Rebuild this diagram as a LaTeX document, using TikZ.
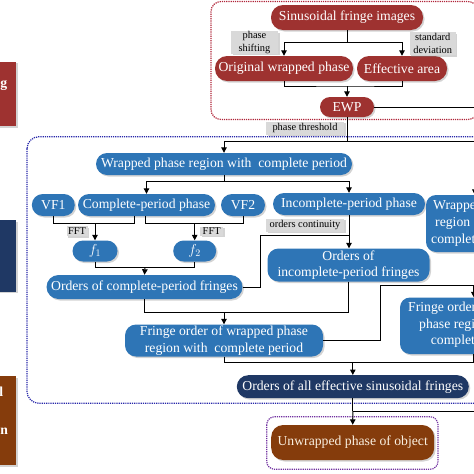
\documentclass[tikz,border=0pt]{standalone}
\usepackage{fontspec}
\setmainfont{Liberation Serif}
\usetikzlibrary{arrows.meta,shadows}
\definecolor{redN}{RGB}{158,50,48}
\definecolor{blueN}{RGB}{46,117,182}
\definecolor{navyN}{RGB}{31,56,100}
\definecolor{brownN}{RGB}{133,60,12}
\definecolor{redDot}{RGB}{175,35,55}
\definecolor{blueDot}{RGB}{40,40,170}
\definecolor{purpDot}{RGB}{112,48,160}
\definecolor{lblGray}{RGB}{217,217,217}
\begin{document}
\begin{tikzpicture}[x=1pt,y=-1pt,
  base/.style={inner sep=0pt, align=center, text=white,
    font=\fontsize{13.7}{16.6}\selectfont,
    drop shadow={opacity=0.35,shadow xshift=1.5pt,shadow yshift=-1.5pt}},
  rbox/.style={base, fill=redN, rounded corners=12pt},
  bbox/.style={base, fill=blueN, rounded corners=11pt},
  lbl/.style={inner sep=0pt, fill=lblGray, text=black, align=center,
    font=\fontsize{10.4}{12.6}\selectfont,
    drop shadow={opacity=0.35,shadow xshift=1.5pt,shadow yshift=-1.5pt}},
  sidebox/.style={inner sep=0pt, minimum width=46pt,
    drop shadow={opacity=0.35,shadow xshift=1.5pt,shadow yshift=-1.5pt}},
  sidetxt/.style={inner sep=0pt, text=white, font=\fontsize{13.7}{16.6}\selectfont\bfseries},
  frag/.style={inner sep=0pt, text=white, align=left, font=\fontsize{13.7}{16.6}\selectfont},
  con/.style={line width=1pt, black},
  arr/.style={con, -{Triangle[length=5.5pt,width=5.5pt]}},
  dotbox/.style={line width=1.2pt, densely dotted}
]
\useasboundingbox (0,0) rectangle (474,474);
\clip (0,0) rectangle (474,474);

% group frames
\draw[dotbox, redDot, rounded corners=10pt] (211,1.5) rectangle (478,119.5);
\draw[dotbox, blueDot, rounded corners=12pt] (27,136.7) rectangle (490,403.3);
\draw[dotbox, purpDot, rounded corners=8pt] (266.7,416.7) rectangle (438,469.3);

% left side boxes (cut by the border)
\node[sidebox, fill=redN, minimum height=64.3pt] (sideA) at (-7,93.85) {};
\node[sidetxt, anchor=east] (sideAt) at (7.5,85) {g};
\node[sidebox, fill=navyN, minimum height=71.7pt] (sideB) at (-7,255.85) {};
\node[sidebox, fill=brownN, minimum height=89pt] (sideC) at (-7,420.5) {};
\node[sidetxt, anchor=east] (sideCt1) at (3.5,392) {l};
\node[sidetxt, anchor=east] (sideCt2) at (8.3,431) {n};

% red nodes
\node[rbox, minimum width=152pt, minimum height=25pt] (sfi) at (347,17.5) {Sinusoidal fringe images};
\node[rbox, minimum width=138pt, minimum height=25pt] (owp) at (284,68.5) {Original wrapped phase};
\node[rbox, minimum width=90pt, minimum height=25pt] (eff) at (402,68.5) {Effective area};
\node[rbox, minimum width=54pt, minimum height=20pt, rounded corners=10pt] (ewp) at (347,107) {EWP};

% labels
\node[lbl, minimum width=47pt, minimum height=21pt] (lps) at (254.5,42.5) {phase\\shifting};
\node[lbl, minimum width=46pt, minimum height=23pt] (lsd) at (432.7,43.5) {standard\\deviation};
\node[lbl, minimum width=78pt, minimum height=13.3pt] (lpt) at (305,128.3) {phase threshold};
\node[lbl, minimum width=21pt, minimum height=10pt] (lf1) at (77,231) {FFT};
\node[lbl, minimum width=23pt, minimum height=9pt] (lf2) at (211.7,231) {FFT};
\node[lbl, minimum width=78pt, minimum height=12.7pt] (loc) at (305,225.3) {orders continuity};

% blue nodes
\node[bbox, minimum width=256pt, minimum height=22pt] (wcp) at (224,164) {Wrapped phase region with \ complete period};
\node[bbox, minimum width=43pt, minimum height=22pt] (vf1) at (53.3,205) {VF1};
\node[bbox, minimum width=137pt, minimum height=22pt] (cpp) at (146.5,205) {Complete-period phase};
\node[bbox, minimum width=44pt, minimum height=22pt] (vf2) at (243,205) {VF2};
\node[bbox, minimum width=152pt, minimum height=22pt] (ipp) at (349,204) {Incomplete-period phase};
\node[bbox, minimum width=97.6pt, minimum height=57pt, rounded corners=10pt] (wic) at (474.8,223.5) {};
\node[frag, anchor=west] (wict) at (431,223.5) {\hspace*{2pt}Wrappe\\\hspace*{4pt}region\\complet};
\node[bbox, minimum width=45pt, minimum height=21pt, rounded corners=10.5pt] (f1) at (95,251) {$f_1$};
\node[bbox, minimum width=43pt, minimum height=21pt, rounded corners=10.5pt] (f2) at (194.7,251) {$f_2$};
\node[bbox, minimum width=196pt, minimum height=24pt, rounded corners=12pt] (ocp) at (144.5,287) {Orders of complete-period fringes};
\node[bbox, minimum width=162pt, minimum height=33pt] (oip) at (348.5,265) {Orders of\\incomplete-period fringes};
\node[bbox, minimum width=198pt, minimum height=32pt] (fo) at (224,340.5) {Fringe order of wrapped phase\\region with \ complete period};
\node[bbox, minimum width=147.6pt, minimum height=56.5pt, rounded corners=10pt] (fow) at (473.8,325.75) {};
\node[frag, anchor=west] (fowt) at (408,325) {Fringe order\\\hspace*{11pt}phase regi\\\hspace*{22.7pt}complet};

% dark nodes
\node[base, fill=navyN, rounded corners=11.5pt, minimum width=232pt, minimum height=23pt] (oae) at (352.8,386.7) {Orders of all effective sinusoidal fringes};
\node[base, fill=brownN, text={rgb,255:red,250;green,240;blue,225}, rounded corners=12pt, minimum width=163pt, minimum height=35pt] (uwp) at (352.7,442.5) {Unwrapped phase of object};

% junctions
\coordinate (j1) at (347,42);
\coordinate (j2) at (347,86);
\coordinate (eR) at (480,107);
\coordinate (j3) at (347,141.7);
\coordinate (j7) at (224,181.7);
\coordinate (j8) at (95,223.3);
\coordinate (j9) at (194.7,223.3);
\coordinate (j10) at (145,267.3);
\coordinate (k2) at (260.7,235.7);
\coordinate (j11) at (348.5,235.7);
\coordinate (j12) at (224,312.7);
\coordinate (k1) at (380.7,285);
\coordinate (j5) at (352.8,362.7);
\coordinate (j6) at (352.8,411);
\coordinate (r6) at (480,411);

% connectors
\draw[con] (sfi.south) -- (j1);
\draw[arr] (j1) -| (owp.north);
\draw[arr] (j1) -| (eff.north);
\draw[con] (owp.south) |- (j2) -| (eff.south);
\draw[arr] (j2) -- (ewp.north);
\draw[con] (ewp.east) -- (eR);
\draw[con] (ewp.south) -- (j3);
\draw[arr] (j3) -| (wcp.north);
\draw[arr] (j3) -| (wic.north);

\draw[con] (wcp.south) -- (j7);
\draw[arr] (j7) -| (cpp.north);
\draw[arr] (j7) -| (ipp.north);
\draw[con] (vf1.south) |- (j8);
\draw[con] ([xshift=-12.5pt]cpp.south) |- (j8);
\draw[con] ([xshift=-0.8pt]cpp.south) |- (j9);
\draw[con] (vf2.south) |- (j9);
\draw[arr] (j8) -- (f1.north);
\draw[arr] (j9) -- (f2.north);
\draw[con] (f1.south) |- (j10) -| (f2.south);
\draw[arr] (j10) -- (ocp.north);

\draw[arr] (ipp.south) -- (ipp.south |- oip.north);
\draw[con] (ocp.east) -| (k2) -- (j11);

\draw[con] (ocp.south) |- (j12);
\draw[con] (oip.south) |- (j12);
\draw[arr] (j12) -- (fo.north);
\draw[con] (fo.east) -| (k1);
\draw[arr] (k1) -| (fow.north);

\draw[con] (fo.south) |- (j5);
\draw[con] (fow.south) |- (j5);
\draw[arr] (j5) -- (oae.north);
\draw[con] (oae.south) -- (j6);
\draw[con] (j6) -- (r6);
\draw[arr] (j6) -- (uwp.north);
\end{tikzpicture}
\end{document}
